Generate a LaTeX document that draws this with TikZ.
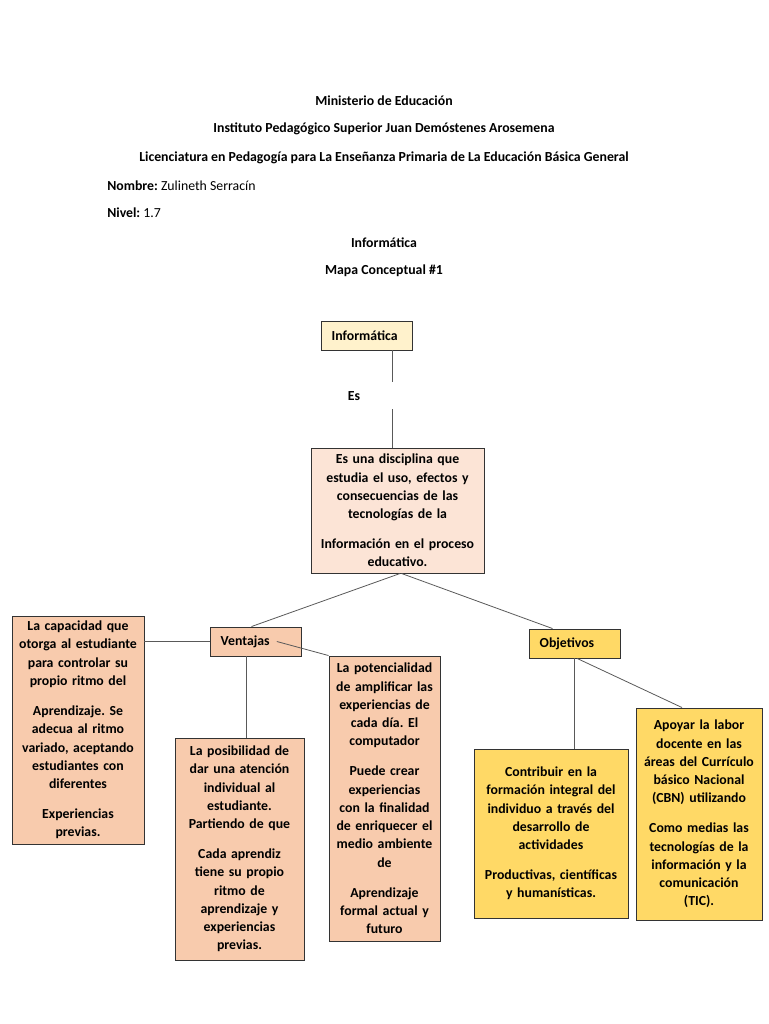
\documentclass[tikz,border=0pt]{standalone}
\usepackage{fontspec}
\setmainfont{Carlito}
\usetikzlibrary{calc}
\definecolor{crema}{HTML}{FFF2CC}
\definecolor{durazno}{HTML}{FCE4D6}
\definecolor{salmon}{HTML}{F8CBAD}
\definecolor{oro}{HTML}{FFD966}
\tikzset{
	caja/.style={draw=black!80,line width=.7pt,inner sep=2pt,align=center,font=\bfseries\fontsize{10.35}{13.7}\selectfont},
	etiqueta/.style={caja,align=left,inner xsep=8pt,minimum height=21.75pt,text width=52.25pt},
	linea/.style={draw=black!65,line width=.6pt},
	titulo/.style={font=\bfseries\fontsize{10.35}{13.7}\selectfont,inner sep=0pt}
}
\newcommand{\pgap}{\\[8.8pt]}
\frenchspacing
\begin{document}
\begin{tikzpicture}[x=.75pt,y=-.75pt]
\useasboundingbox (0,0) rectangle (768,1024);

\node[titulo] (t1) at (384,101) {Ministerio de Educación};
\node[titulo] (t2) at (384,129) {Instituto Pedagógico Superior Juan Demóstenes Arosemena};
\node[titulo] (t3) at (384,158) {Licenciatura en Pedagogía para La Enseñanza Primaria de La Educación Básica General};
\node[titulo,anchor=west] (t4) at (107,186) {Nombre: \mdseries Zulineth Serracín};
\node[titulo,anchor=west] (t5) at (107,213) {Nivel: \mdseries 1.7};
\node[titulo] (t6) at (384,243) {Informática};
\node[titulo] (t7) at (384,271) {Mapa Conceptual \#1};

\node[etiqueta,fill=crema] (info) at (366.5,335.5) {Informática};
\node[titulo] (es) at (354,396) {Es};
\coordinate (gaptop) at (392,382);
\coordinate (gapbot) at (392,409);

\node[caja,fill=durazno,text width=125.75pt,minimum height=93.75pt] (disc) at (397.5,510.5)
	{Es una disciplina que\\estudia el uso, efectos y\\consecuencias de las\\tecnologías de la\pgap Información en el proceso\\educativo.};

\node[etiqueta,fill=salmon] (vent) at (255.5,641.5) {Ventajas};
\node[etiqueta,fill=oro] (obj) at (574.5,643.5) {Objetivos};

\node[caja,fill=salmon,text width=95pt,minimum height=171pt] (cap) at (78,730)
	{La capacidad que\\otorga al estudiante\\para controlar su\\propio ritmo del\pgap Aprendizaje. Se\\adecua al ritmo\\variado, aceptando\\estudiantes con\\diferentes\pgap Experiencias\\previas.};
\node[caja,fill=salmon,text width=92.75pt,minimum height=166.5pt] (posib) at (239.5,849)
	{La posibilidad de\\dar una atención\\individual al\\estudiante.\\Partiendo de que\pgap Cada aprendiz\\tiene su propio\\ritmo de\\aprendizaje y\\experiencias\\previas.};
\node[caja,fill=salmon,text width=79.25pt,minimum height=213.75pt] (pot) at (384.5,798.5)
	{La potencialidad\\de amplificar las\\experiencias de\\cada día. El\\computador\pgap Puede crear\\experiencias\\con la finalidad\\de enriquecer el\\medio ambiente\\de\pgap Aprendizaje\\formal actual y\\futuro};
\node[caja,fill=oro,text width=111.5pt,minimum height=126.75pt] (contrib) at (551,833.5)
	{Contribuir en la\\formación integral del\\individuo a través del\\desarrollo de\\actividades\pgap Productivas, científicas\\y humanísticas.\\[11pt]};
\node[caja,fill=oro,text width=90.5pt,minimum height=159pt] (apoy) at (699,814)
	{Apoyar la labor\\docente en las\\áreas del Currículo\\básico Nacional\\(CBN) utilizando\pgap Como medias las\\tecnologías de la\\información y la\\comunicación\\(TIC).};

\draw[linea] (info.south -| gaptop) -- (gaptop);
\draw[linea] (gapbot) -- (gapbot |- disc.north);
\draw[linea] ([xshift=2pt]disc.south) -- ([xshift=-3pt]vent.north);
\draw[linea] ([xshift=3pt]disc.south) -- ([xshift=-16.5pt]obj.north);
\draw[linea] (cap.east |- vent.west) -- (vent.west);
\draw[linea] ([xshift=-7pt]vent.south) -- ([xshift=-7pt]vent.south |- posib.north);
\draw[linea] ([xshift=16pt]vent.center) -- (pot.north west);
\draw[linea] (obj.south) -- (obj.south |- contrib.north);
\draw[linea] ([xshift=2pt]obj.south) -- ([xshift=-12.75pt]apoy.north);
\end{tikzpicture}
\end{document}
